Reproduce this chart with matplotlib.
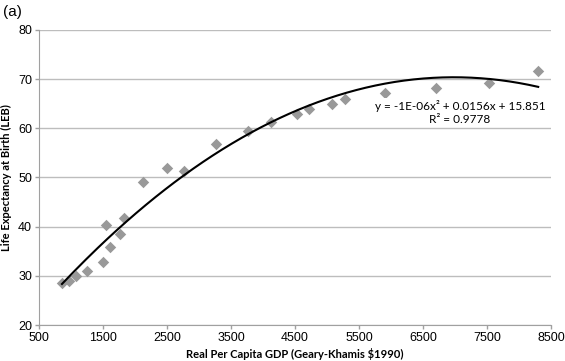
import numpy as np
import matplotlib
matplotlib.use("Agg")
from matplotlib import pyplot as plt

gdp = [859, 968, 1077, 1249, 1498, 1545, 1608, 1764, 1826, 2122,
       2497, 2762, 3261, 3760, 4119, 4525, 4712, 5071, 5289, 5913,
       6709, 7536, 8300]
leb = [28.5, 28.9, 29.9, 31.0, 32.9, 40.3, 35.9, 38.6, 41.8, 49.1,
       52.0, 51.4, 56.8, 59.4, 61.2, 62.9, 63.9, 65.0, 65.9, 67.2,
       68.3, 69.3, 71.7]
x_ticks = [500, 1500, 2500, 3500, 4500, 5500, 6500, 7500, 8500]
y_ticks = [20, 30, 40, 50, 60, 70, 80]
eq_text = "y = -1E-06x\u00b2 + 0.0156x + 15.851\nR\u00b2 = 0.9778"

fig = plt.figure(figsize=(5.65, 3.61), dpi=100)
ax = fig.add_axes([39 / 565, 1 - 325 / 361, 512 / 565, 295 / 361])

# quadratic trend line like excel
coef = np.polyfit(gdp, leb, 2)
xs = np.linspace(min(gdp), max(gdp), 200)
ax.plot(xs, np.polyval(coef, xs), color="black", lw=1.5, zorder=3)
ax.scatter(gdp, leb, marker="D", s=34, color="#999999", zorder=2, linewidths=0)

ax.set_xlim(500, 8500)
ax.set_ylim(20, 80)
ax.set_xticks(x_ticks)
ax.set_yticks(y_ticks)
ax.grid(axis="y", color="#bdbdbd", lw=1)
ax.set_axisbelow(True)
for s in ["top", "right"]:
    ax.spines[s].set_visible(False)
for s in ["left", "bottom"]:
    ax.spines[s].set_color("#a0a0a0")
ax.tick_params(colors="#a0a0a0", labelcolor="black", labelsize=9, length=3,
               width=1, pad=2)
for lab in ax.get_xticklabels() + ax.get_yticklabels():
    lab.set_family("Liberation Sans")

ax.set_xlabel("Real Per Capita GDP (Geary-Khamis $1990)", fontsize=8,
              fontweight="bold", family="Lato", labelpad=3)
ax.set_ylabel("Life Expectancy at Birth (LEB)", fontsize=8,
              fontweight="bold", family="Lato", labelpad=4)

ax.text(7078, 63.3, eq_text, ha="center", va="center", fontsize=8.5,
        family="Lato", linespacing=1.2,
        bbox=dict(facecolor="white", edgecolor="none", pad=1))
fig.text(3 / 565, 1 - 12 / 361, "(a)", fontsize=11, va="center",
         family="Liberation Sans")

plt.savefig("out.png")
plt.close()
